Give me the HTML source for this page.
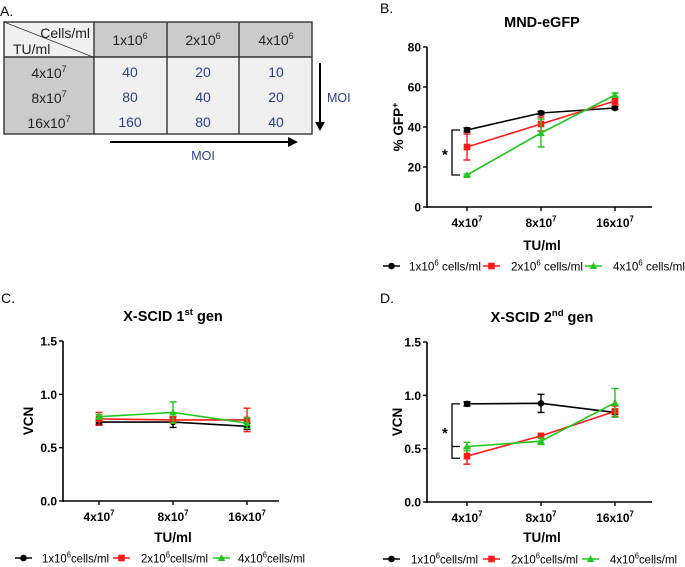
<!DOCTYPE html>
<html><head><meta charset="utf-8">
<style>
html,body{margin:0;padding:0;background:#fff;}
svg{display:block;font-family:"Liberation Sans",Arial,sans-serif;}
</style></head>
<body>
<svg id="fig" width="685" height="567" viewBox="0 0 685 567" xmlns="http://www.w3.org/2000/svg">
  <g>
    <text x="0" y="16" font-size="14">A.</text>
    <rect x="4" y="22" width="90" height="35" fill="#f0f0f0"/>
    <rect x="94" y="22" width="218" height="35" fill="#cbcbcb"/>
    <rect x="4" y="57" width="90" height="77" fill="#cbcbcb"/>
    <rect x="94" y="57" width="218" height="77" fill="#f0f0f0"/>
    <line x1="4" y1="22" x2="93" y2="57" stroke="#333" stroke-width="0.8"/>
    <g stroke="#333" stroke-width="1.4" fill="none">
      <rect x="4" y="22" width="308" height="112"/>
      <line x1="94" y1="22" x2="94" y2="134"/>
      <line x1="167" y1="22" x2="167" y2="134"/>
      <line x1="239" y1="22" x2="239" y2="134"/>
      <line x1="4" y1="57" x2="312" y2="57"/>
    </g>
    <g font-size="14" fill="#222">
      <text x="90" y="38" text-anchor="end">Cells/ml</text>
      <text x="13" y="54">TU/ml</text>
      <text x="130" y="45" text-anchor="middle">1x10<tspan font-size="9" dy="-6">6</tspan></text>
      <text x="203" y="45" text-anchor="middle">2x10<tspan font-size="9" dy="-6">6</tspan></text>
      <text x="276" y="45" text-anchor="middle">4x10<tspan font-size="9" dy="-6">6</tspan></text>
      <text x="49" y="78" text-anchor="middle">4x10<tspan font-size="9" dy="-6">7</tspan></text>
      <text x="49" y="103" text-anchor="middle">8x10<tspan font-size="9" dy="-6">7</tspan></text>
      <text x="49" y="128" text-anchor="middle">16x10<tspan font-size="9" dy="-6">7</tspan></text>
    </g>
    <g font-size="14" fill="#2b3f8a" text-anchor="middle">
      <text x="130" y="77">40</text><text x="203" y="77">20</text><text x="276" y="77">10</text>
      <text x="130" y="102">80</text><text x="203" y="102">40</text><text x="276" y="102">20</text>
      <text x="130" y="127">160</text><text x="203" y="127">80</text><text x="276" y="127">40</text>
    </g>
    <line x1="320" y1="63" x2="320" y2="124" stroke="#000" stroke-width="2"/>
    <polygon points="315,122 325,122 320,131" fill="#000"/>
    <text x="327" y="102" font-size="12.5" fill="#2b3f8a">MOI</text>
    <line x1="110" y1="142" x2="290" y2="142" stroke="#000" stroke-width="2"/>
    <polygon points="288,137 288,147 298,142" fill="#000"/>
    <text x="203" y="160" font-size="12.5" fill="#2b3f8a" text-anchor="middle">MOI</text>
  </g>
  <g id="panels"></g>
</svg>
<script>
// Shared categories
const categories = ["4x10", "8x10", "16x10"];
const seriesNames = ["1x10", "2x10", "4x10"];
// Panel B data (% GFP+)
const bMean1 = [38.5, 47, 49.5];
const bErr1 = [1, 0.8, 0.8];
const bMean2 = [30, 41.5, 53];
const bErr2 = [6.5, 3.5, 2];
const bMean3 = [16, 37, 56];
const bErr3 = [0.5, 7, 1];
const bTicks = [0, 20, 40, 60, 80];
// Panel C data (VCN)
const cMean1 = [0.74, 0.74, 0.70];
const cErr1 = [0.02, 0.05, 0.03];
const cMean2 = [0.77, 0.76, 0.76];
const cErr2 = [0.06, 0.03, 0.11];
const cMean3 = [0.79, 0.83, 0.73];
const cErr3 = [0.02, 0.10, 0.05];
// Panel D data (VCN)
const dMean1 = [0.92, 0.925, 0.84];
const dErr1 = [0.02, 0.085, 0.02];
const dMean2 = [0.43, 0.62, 0.85];
const dErr2 = [0.075, 0.015, 0.05];
const dMean3 = [0.52, 0.57, 0.93];
const dErr3 = [0.04, 0.03, 0.135];
const vcnTicks = [0, 0.5, 1.0, 1.5];

const NS = "http://www.w3.org/2000/svg";
const root = document.getElementById("panels");
const colors = ["#000000", "#ff1a1a", "#1ec81e"];

function mk(tag, attrs, parent, text) {
  const e = document.createElementNS(NS, tag);
  for (const k in attrs) e.setAttribute(k, attrs[k]);
  if (text !== undefined) e.textContent = text;
  parent.appendChild(e);
  return e;
}
function supText(parent, x, y, base, sup, size, anchor, bold) {
  const t = mk("text", {x: x, y: y, "font-size": size, "text-anchor": anchor, "font-weight": bold ? "bold" : "normal"}, parent);
  t.appendChild(document.createTextNode(base));
  mk("tspan", {"font-size": size * 0.65, dy: -size * 0.45}, t, sup);
  return t;
}
function marker(g, i, x, y, c) {
  let m;
  if (i === 0) m = mk("circle", {cx: x, cy: y, r: 3.3, fill: c}, g);
  else if (i === 1) m = mk("rect", {x: x - 3.3, y: y - 3.3, width: 6.6, height: 6.6, fill: c}, g);
  else m = mk("polygon", {points: `${x - 3.8},${y + 3} ${x + 3.8},${y + 3} ${x},${y - 3.8}`, fill: c}, g);
  return m;
}

function panel(cfg) {
  const g = mk("g", {}, root);
  
  
  const ax = cfg.axX, y0 = cfg.y0, y1 = cfg.y1, xEnd = cfg.xEnd;
  const yMax = cfg.ticks[cfg.ticks.length - 1];
  const ys = v => y0 - (v / yMax) * (y0 - y1);
  const xs = i => cfg.xPos[0] + i * (cfg.xPos[1] - cfg.xPos[0]);

  const lab = mk("text", {x: cfg.labX, y: cfg.labY, "font-size": 14}, g, cfg.letter);
  
  

  const title = mk("text", {x: cfg.titleX, y: cfg.titleY, "font-size": 14.5, "font-weight": "bold", "text-anchor": "middle"}, g);
  
  
  title.appendChild(document.createTextNode(cfg.title[0]));
  if (cfg.title[1]) {
    mk("tspan", {"font-size": 9.5, dy: -6}, title, cfg.title[1]);
    mk("tspan", {"font-size": 14.5, dy: 6}, title, cfg.title[2]);
  }

  const yAxis = mk("line", {x1: ax, y1: y1, x2: ax, y2: y0 + 1, stroke: "#000", "stroke-width": 1.6}, g);
  
  
  const xAxis = mk("line", {x1: ax, y1: y0, x2: xEnd, y2: y0, stroke: "#000", "stroke-width": 1.6}, g);
  
  
  cfg.ticks.forEach(t => {
    const y = ys(t);
    mk("line", {x1: ax - 4, y1: y, x2: ax, y2: y, stroke: "#000", "stroke-width": 1.4}, g);
    const tl = mk("text", {x: ax - 6, y: y + 4.5, "font-size": 12, "font-weight": "bold", "text-anchor": "end"}, g, cfg.fmt(t));
    
    
  });
  categories.forEach((c, i) => {
    const x = xs(i);
    mk("line", {x1: x, y1: y0, x2: x, y2: y0 + 4, stroke: "#000", "stroke-width": 1.4}, g);
    const tl = supText(g, x, y0 + 20, c, "7", 12, "middle", true);
    
    
  });
  const xt = mk("text", {x: cfg.titleX, y: cfg.xTitleY, "font-size": 13.5, "font-weight": "bold", "text-anchor": "middle"}, g, "TU/ml");
  
  
  const yt = mk("text", {x: 0, y: 0, "font-size": 13.5, "font-weight": "bold", "text-anchor": "middle", transform: `translate(${cfg.yTitleX},${(y0 + y1) / 2}) rotate(-90)`}, g);
  
  
  yt.appendChild(document.createTextNode(cfg.yTitle));
  if (cfg.yTitleSup) mk("tspan", {"font-size": 9, dy: -5}, yt, cfg.yTitleSup);

  [0, 1, 2].forEach(si => {
    const mean = cfg.means[si], err = cfg.errs[si], c = colors[si];
    const sg = mk("g", {}, g);
    
    
    const pts = mean.map((v, i) => `${xs(i)},${ys(v)}`).join(" ");
    const pl = mk("polyline", {points: pts, fill: "none", stroke: c, "stroke-width": 1.6}, sg);
    
    
    mean.forEach((v, i) => {
      const x = xs(i), e = err[i];
      const eb = mk("path", {d: `M${x},${ys(v + e)}V${ys(v - e)}M${x - 3.5},${ys(v + e)}H${x + 3.5}M${x - 3.5},${ys(v - e)}H${x + 3.5}`, stroke: c, "stroke-width": 1.4, fill: "none"}, sg);
      
      
      const m = marker(sg, si, x, ys(v), c);
      
      
    });
  });

  if (cfg.bracket) {
    const bk = cfg.bracket;
    const bx = ax + 25, bx2 = ax + 33;
    let d = `M${bx2},${ys(bk[0])}H${bx}V${ys(bk[bk.length - 1])}H${bx2}`;
    if (bk.length > 2) d += `M${bx},${ys(bk[1])}H${bx2}`;
    const br = mk("path", {d: d, stroke: "#000", "stroke-width": 1.3, fill: "none"}, g);
    
    
    const st = mk("text", {x: bx - 10, y: ys((bk[0] + bk[bk.length - 1]) / 2) + 7, "font-size": 15, "font-weight": "bold"}, g, "*");
    
    
  }

  const ly = cfg.legY;
  seriesNames.forEach((n, si) => {
    const lg = mk("g", {}, g);
    
    
    const lx = cfg.legX[si];
    mk("line", {x1: lx, y1: ly, x2: lx + 17, y2: ly, stroke: colors[si], "stroke-width": 1.6}, lg);
    marker(lg, si, lx + 8.5, ly, colors[si]);
    const t = mk("text", {x: cfg.legTX[si], y: ly + 4.5, "font-size": 12, "textLength": cfg.legW, "lengthAdjust": "spacingAndGlyphs"}, lg);
    t.appendChild(document.createTextNode(n));
    mk("tspan", {"font-size": 8, dy: -5}, t, "6");
    mk("tspan", {dy: 5}, t, cfg.legSpace + "cells/ml");
  });
}

panel({
  name: "panel-b-mnd-egfp", letter: "B.", labX: 380, labY: 13,
  title: ["MND-eGFP"], titleX: 542, titleY: 27,
  axX: 427, y0: 207, y1: 47, xEnd: 652, xPos: [467, 541], ticks: bTicks, fmt: t => String(t),
  xTitleY: 250, yTitle: "% GFP", yTitleSup: "+", yTitleX: 403,
  means: [bMean1, bMean2, bMean3], errs: [bErr1, bErr2, bErr3],
  bracket: [38.5, 16], legY: 266, legX: [383, 483, 585], legTX: [409, 511, 613], legSpace: " ", legW: 72
});
panel({
  name: "panel-c-xscid-1st-gen", letter: "C.", labX: 1, labY: 303,
  title: ["X-SCID 1", "st", " gen"], titleX: 173, titleY: 321,
  axX: 63, y0: 501, y1: 341, xEnd: 279, xPos: [99, 173], ticks: vcnTicks, fmt: t => t.toFixed(1),
  xTitleY: 542, yTitle: "VCN", yTitleX: 33,
  means: [cMean1, cMean2, cMean3], errs: [cErr1, cErr2, cErr3],
  legY: 558, legX: [15, 113, 213], legTX: [42, 141, 238], legSpace: "", legW: 67
});
panel({
  name: "panel-d-xscid-2nd-gen", letter: "D.", labX: 380, labY: 303,
  title: ["X-SCID 2", "nd", " gen"], titleX: 542, titleY: 322,
  axX: 427, y0: 502, y1: 342, xEnd: 652, xPos: [467, 541], ticks: vcnTicks, fmt: t => t.toFixed(1),
  xTitleY: 542, yTitle: "VCN", yTitleX: 402,
  means: [dMean1, dMean2, dMean3], errs: [dErr1, dErr2, dErr3],
  bracket: [0.92, 0.52, 0.41], legY: 559, legX: [383, 483, 582], legTX: [411, 511, 610], legSpace: "", legW: 67
});
</script>
</body></html>
